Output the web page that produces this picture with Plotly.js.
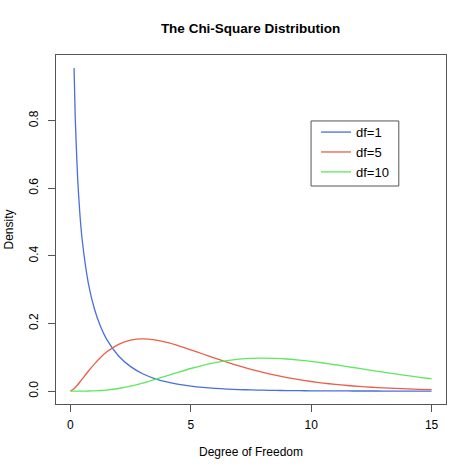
<!DOCTYPE html>
<html>
<head>
<meta charset="utf-8">
<script src="https://cdn.plot.ly/plotly-3.0.1.min.js"></script>
<style>html,body{margin:0;padding:0;background:#fff;}#chart{width:474px;height:474px;}</style>
</head>
<body>
<div id="chart"></div>
<script>
var xVals = [0, 0.15, 0.2, 0.3, 0.4, 0.5, 0.75, 1, 1.25, 1.5, 2, 2.5, 3, 3.5, 4, 4.5, 5, 5.5, 6, 6.5, 7, 7.5, 8, 8.5, 9, 9.5, 10, 10.5, 11, 11.5, 12, 12.5, 13, 13.5, 14, 14.5, 15];
var df1 = [null, 0.9556, 0.8072, 0.6269, 0.5164, 0.4394, 0.3166, 0.2420, 0.1910, 0.1539, 0.1038, 0.0723, 0.0514, 0.0371, 0.0270, 0.0198, 0.01465, 0.01087, 0.00811, 0.00607, 0.00455, 0.00343, 0.00258, 0.00195, 0.00148, 0.00112, 0.00085, 0.000646, 0.000492, 0.000374, 0.000285, 0.000218, 0.000166, 0.000127, 0.0000972, 0.0000744, 0.0000570];
var df5 = [0, 0.00717, 0.01076, 0.01881, 0.02754, 0.03662, 0.05936, 0.08066, 0.09948, 0.11540, 0.13837, 0.15060, 0.15418, 0.15131, 0.14398, 0.13380, 0.12204, 0.10965, 0.09730, 0.08545, 0.07437, 0.06424, 0.05511, 0.04701, 0.03989, 0.03369, 0.02834, 0.02375, 0.01983, 0.01651, 0.01370, 0.01134, 0.00937, 0.00772, 0.00635, 0.00521, 0.00427];
var df10 = [0, 0.0000006, 0.0000019, 0.0000091, 0.0000273, 0.0000634, 0.000283, 0.000790, 0.001702, 0.003114, 0.007664, 0.014572, 0.023533, 0.033954, 0.045112, 0.056276, 0.066801, 0.076169, 0.084016, 0.090122, 0.094405, 0.096891, 0.097685, 0.096953, 0.094904, 0.091759, 0.087734, 0.083060, 0.077914, 0.072488, 0.066933, 0.061353, 0.055895, 0.050644, 0.045619, 0.040867, 0.036453];
var seriesNames = ["df=1", "df=5", "df=10"];
var xTicks = [0, 5, 10, 15];
var yTicks = [0, 0.2, 0.4, 0.6, 0.8];
var yTickText = ["0.0", "0.2", "0.4", "0.6", "0.8"];

var colors = ["#4a6ee0", "#e8604a", "#5ee85e"];
var series = [df1, df5, df10];
var traces = series.map(function (s, i) {
  return {
    x: xVals, y: s, name: seriesNames[i], type: "scatter", mode: "lines",
    line: {color: colors[i], width: 1.3, shape: "spline", smoothing: 0.6},
    connectgaps: false
  };
});

var font = "Liberation Sans, Arial, Helvetica, sans-serif";
var layout = {
  width: 474, height: 474,
  margin: {l: 56, r: 28, t: 55, b: 70},
  paper_bgcolor: "#fff", plot_bgcolor: "#fff",
  font: {family: font, size: 12, color: "#000"},
  title: {text: "<b>The Chi-Square Distribution</b>", font: {family: font, size: 13.5, color: "#000"},
          x: 0.5285, xanchor: "center", y: 0.941, yanchor: "middle"},
  xaxis: {
    range: [-0.6, 15.6], tickvals: xTicks, ticktext: xTicks.map(String),
    ticks: "outside", ticklen: 7, tickcolor: "#555", tickwidth: 1, ticklabelstandoff: 3,
    showgrid: false, zeroline: false, showline: true, linecolor: "#555", linewidth: 1, mirror: true,
    tickfont: {family: font, size: 12, color: "#000"},
    title: {text: "Degree of Freedom", font: {family: font, size: 12, color: "#000"}, standoff: 16}
  },
  yaxis: {
    range: [-0.0382, 0.994], tickvals: yTicks, ticktext: yTickText, tickangle: -90,
    ticks: "outside", ticklen: 7, tickcolor: "#555", tickwidth: 1, ticklabelstandoff: 5,
    showgrid: false, zeroline: false, showline: true, linecolor: "#555", linewidth: 1, mirror: true,
    tickfont: {family: font, size: 12, color: "#000"},
    title: {text: "Density", font: {family: font, size: 12, color: "#000"}, standoff: 11}
  },
  showlegend: true,
  legend: {
    x: 0.6667, y: 0.822, xanchor: "left", yanchor: "top",
    borderwidth: 0, bgcolor: "rgba(0,0,0,0)",
    font: {family: font, size: 13, color: "#000"},
    tracegroupgap: 0
  },
  shapes: [{
    type: "rect", xref: "paper", yref: "paper",
    x0: 0.654, x1: 0.879, y0: 0.6246, y1: 0.811,
    line: {color: "#555", width: 1}, fillcolor: "rgba(0,0,0,0)", layer: "above"
  }]
};

Plotly.newPlot("chart", traces, layout, {staticPlot: true, displayModeBar: false});
</script>
</body>
</html>
